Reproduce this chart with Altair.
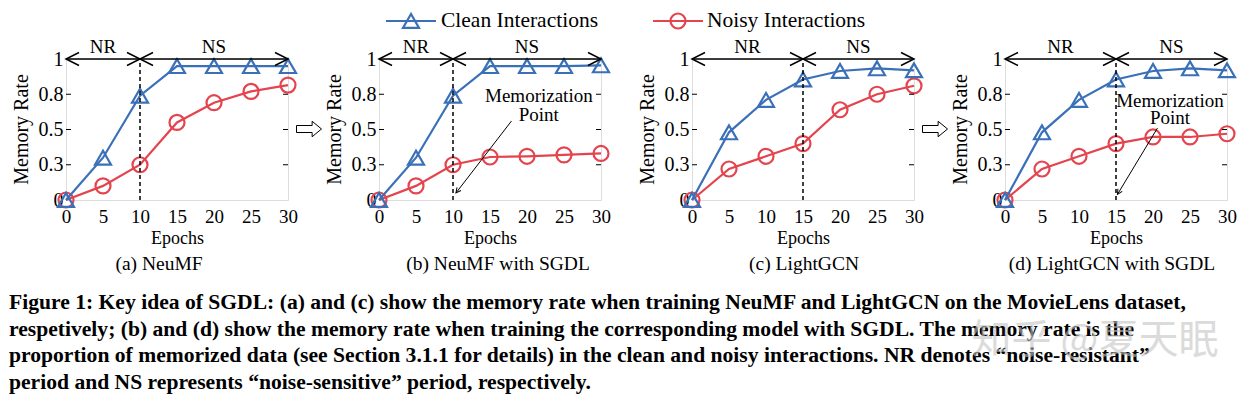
import math
import altair as alt
import pandas as pd

# ---------------- data ----------------
epochs = [0, 5, 10, 15, 20, 25, 30]
series_names = ["Clean Interactions", "Noisy Interactions"]
clean_neumf = [0, 0.30, 0.74, 0.95, 0.95, 0.95, 0.95]
noisy_neumf = [0, 0.10, 0.25, 0.55, 0.69, 0.77, 0.815]
clean_neumf_sgdl = [0, 0.30, 0.74, 0.95, 0.95, 0.95, 0.955]
noisy_neumf_sgdl = [0, 0.10, 0.25, 0.305, 0.31, 0.32, 0.33]
clean_lightgcn = [0, 0.48, 0.71, 0.855, 0.915, 0.934, 0.92]
noisy_lightgcn = [0, 0.22, 0.31, 0.40, 0.64, 0.75, 0.81]
clean_lightgcn_sgdl = [0, 0.48, 0.71, 0.855, 0.915, 0.934, 0.92]
noisy_lightgcn_sgdl = [0, 0.22, 0.31, 0.40, 0.447, 0.447, 0.47]
split_epochs = [10, 10, 15, 15]
subcaptions = ["(a) NeuMF", "(b) NeuMF with SGDL", "(c) LightGCN", "(d) LightGCN with SGDL"]
y_tick_values = [0, 0.25, 0.5, 0.75, 1]
y_tick_labels = ["0", "0.3", "0.5", "0.8", "1"]
period_labels = ["NR", "NS"]
memo_lines = ["Memorization", "Point"]
memo_b = {"tx": 21.6, "ty": [0.74, 0.60], "x1": 17.9, "y1": 0.56, "x2": 10.4, "y2": 0.05}
memo_d = {"tx": 22.3, "ty": [0.70, 0.58], "x1": 20.6, "y1": 0.51, "x2": 15.2, "y2": 0.04}
caption_lines = [
    "Figure 1: Key idea of SGDL: (a) and (c) show the memory rate when training NeuMF and LightGCN on the MovieLens dataset,",
    "respetively; (b) and (d) show the memory rate when training the corresponding model with SGDL. The memory rate is the",
    "proportion of memorized data (see Section 3.1.1 for details) in the clean and noisy interactions. NR denotes \u201cnoise-resistant\u201d",
    "period and NS represents \u201cnoise-sensitive\u201d period, respectively.",
]
watermark_text = "知乎 @夏天眠"

# ---------------- style ----------------
W, H = 222, 141
FONT = "Liberation Serif"
BLUE, RED = "#3a70b8", "#e4444e"
CHEV_L = "M1,-0.5L0,0L1,0.5"
CHEV_R = "M-1,-0.5L0,0L-1,0.5"
BLOCK = "M-1,-0.28L0.25,-0.28L0.25,-0.62L1,0L0.25,0.62L0.25,0.28L-1,0.28Z"
ONE = pd.DataFrame({"k": [0]})


def X():
    return alt.X("epoch:Q", scale=alt.Scale(domain=[0, 30], nice=False, zero=False),
                 axis=alt.Axis(values=epochs, title="Epochs", labelFlush=False, ticks=False,
                               domain=False, grid=False, labelFontSize=19, labelPadding=7,
                               labelBaseline="top", labelFont=FONT, labelColor="black",
                               titleFont=FONT, titleFontSize=18, titleFontWeight="normal",
                               titleColor="black", titleY=38, titleBaseline="middle"))


def Y():
    expr = f"{y_tick_labels}[indexof({y_tick_values}, datum.value)]"
    return alt.Y("rate:Q", scale=alt.Scale(domain=[0, 1], nice=False),
                 axis=alt.Axis(values=y_tick_values, labelExpr=expr, title="Memory Rate",
                               ticks=False, domain=False, grid=False, labelFontSize=20,
                               labelPadding=3, labelFont=FONT, labelColor="black",
                               labelOverlap=False, titleFont=FONT, titleFontSize=20,
                               titleFontWeight="normal", titleColor="black", titleAngle=270,
                               titleX=-45, titleY=70, titleAlign="center",
                               titleBaseline="middle"))


def series_layers(vals, color, shape, size):
    df = pd.DataFrame({"epoch": epochs, "rate": vals})
    line = alt.Chart(df).mark_line(color=color, strokeWidth=2.2).encode(X(), Y())
    pts = alt.Chart(df).mark_point(shape=shape, size=size, filled=False, color=color,
                                   strokeWidth=2.2, opacity=1).encode(X(), Y())
    return [line, pts]


def text_px(text, x, y, size=19, align="center", **kw):
    return alt.Chart(ONE).mark_text(text=text, font=FONT, fontSize=size, align=align,
                                    baseline="middle", color=kw.pop("color", "black"),
                                    **kw).encode(x=alt.value(x), y=alt.value(y))


def memo_layers(m):
    tdf = pd.DataFrame({"epoch": [m["tx"]] * 2, "rate": m["ty"], "t": memo_lines})
    txt = alt.Chart(tdf).mark_text(font=FONT, fontSize=19, color="black", baseline="middle").encode(
        X(), Y(), text="t:N")
    adf = pd.DataFrame({"epoch": [m["x1"]], "rate": [m["y1"]], "epoch2": [m["x2"]], "rate2": [m["y2"]]})
    arrow = alt.Chart(adf).mark_rule(color="black", strokeWidth=1).encode(
        X(), Y(), x2="epoch2:Q", y2="rate2:Q")
    dx = (m["x2"] - m["x1"]) * W / 30
    dy = -(m["y2"] - m["y1"]) * H
    ang = math.degrees(math.atan2(dy, dx)) % 360
    hdf = pd.DataFrame({"epoch": [m["x2"]], "rate": [m["y2"]]})
    head = alt.Chart(hdf).mark_point(shape=CHEV_R, size=100, filled=False, color="black",
                                     strokeWidth=1, opacity=1, angle=ang).encode(X(), Y())
    return [txt, arrow, head]


def panel(i, clean, noisy, div, sub_dx, extra):
    layers = []
    layers += series_layers(noisy, RED, "circle", 225)
    layers += series_layers(clean, BLUE, "triangle-up", 256)
    top = pd.DataFrame({"epoch": [0], "epoch2": [30], "rate": [1]})
    layers.append(alt.Chart(top).mark_rule(color="black", strokeWidth=1.5).encode(X(), Y(), x2="epoch2:Q"))
    dv = pd.DataFrame({"epoch": [div], "rate": [0], "rate2": [1]})
    layers.append(alt.Chart(dv).mark_rule(color="black", strokeWidth=1.5, strokeDash=[4, 3]).encode(
        X(), Y(), y2="rate2:Q"))
    left = pd.DataFrame({"epoch": [0, div], "rate": [1, 1]})
    right = pd.DataFrame({"epoch": [div, 30], "rate": [1, 1]})
    layers.append(alt.Chart(left).mark_point(shape=CHEV_L, size=676, filled=False, color="black",
                                             strokeWidth=1.5, opacity=1).encode(X(), Y()))
    layers.append(alt.Chart(right).mark_point(shape=CHEV_R, size=676, filled=False, color="black",
                                              strokeWidth=1.5, opacity=1).encode(X(), Y()))
    pl = pd.DataFrame({"epoch": [div / 2, (div + 30) / 2], "t": period_labels})
    layers.append(alt.Chart(pl).mark_text(font=FONT, fontSize=19, color="black", baseline="middle").encode(
        X(), y=alt.value(-12), text="t:N"))
    ticks = pd.DataFrame({"rate": y_tick_values[1:-1]})
    layers.append(alt.Chart(ticks).mark_rule(color="black", strokeWidth=1).encode(
        Y(), x=alt.value(0), x2=alt.value(5)))
    layers.append(alt.Chart(ticks).mark_rule(color="black", strokeWidth=1).encode(
        Y(), x=alt.value(W - 5), x2=alt.value(W)))
    layers.append(text_px(subcaptions[i], sub_dx, 205, size=19.5))
    layers += extra
    return alt.layer(*layers).properties(width=W, height=H)


block_arrow = alt.Chart(ONE).mark_point(shape=BLOCK, size=625, filled=True, fill="white",
                                        stroke="black", strokeWidth=1, opacity=1).encode(
    x=alt.value(243), y=alt.value(70))

caption = alt.Chart(ONE).mark_text(text=caption_lines, font=FONT, fontSize=21.6, fontWeight="bold",
                                   align="left", baseline="top", lineHeight=26.5,
                                   color="black").encode(x=alt.value(-57), y=alt.value(233))

legend = []
legend.append(alt.Chart(ONE).mark_rule(color=BLUE, strokeWidth=2.2).encode(
    x=alt.value(7), x2=alt.value(57), y=alt.value(-38)))
legend.append(alt.Chart(ONE).mark_point(shape="triangle-up", size=256, filled=False, color=BLUE,
                                        strokeWidth=2.2, opacity=1).encode(x=alt.value(32), y=alt.value(-38)))
legend.append(text_px(series_names[0], 62, -38, size=21.5, align="left"))
legend.append(alt.Chart(ONE).mark_rule(color=RED, strokeWidth=2.2).encode(
    x=alt.value(274), x2=alt.value(324), y=alt.value(-38)))
legend.append(alt.Chart(ONE).mark_point(shape="circle", size=225, filled=False, color=RED,
                                        strokeWidth=2.2, opacity=1).encode(x=alt.value(299), y=alt.value(-38)))
legend.append(text_px(series_names[1], 328, -38, size=21.5, align="left"))

watermark = alt.Chart(ONE).mark_text(text=watermark_text, font="Noto Sans CJK SC", fontSize=40,
                                     color="#c4c4c4", opacity=0.6, align="center",
                                     baseline="middle").encode(x=alt.value(90), y=alt.value(282))

pa = panel(0, clean_neumf, noisy_neumf, split_epochs[0], 93, [block_arrow, caption])
pb = panel(1, clean_neumf_sgdl, noisy_neumf_sgdl, split_epochs[1], 119, memo_layers(memo_b) + legend)
pc = panel(2, clean_lightgcn, noisy_lightgcn, split_epochs[2], 112, [block_arrow])
pd_ = panel(3, clean_lightgcn_sgdl, noisy_lightgcn_sgdl, split_epochs[3], 107,
            memo_layers(memo_d) + [watermark])

chart = alt.hconcat(pa, pb, pc, pd_, spacing=91, bounds="flush").properties(
    padding={"left": 0, "top": 0, "right": 0, "bottom": 0}
).configure_view(stroke="black", strokeWidth=1.2).configure(background="white")

chart.save("out.html", embed_options={"renderer": "svg", "actions": False})
